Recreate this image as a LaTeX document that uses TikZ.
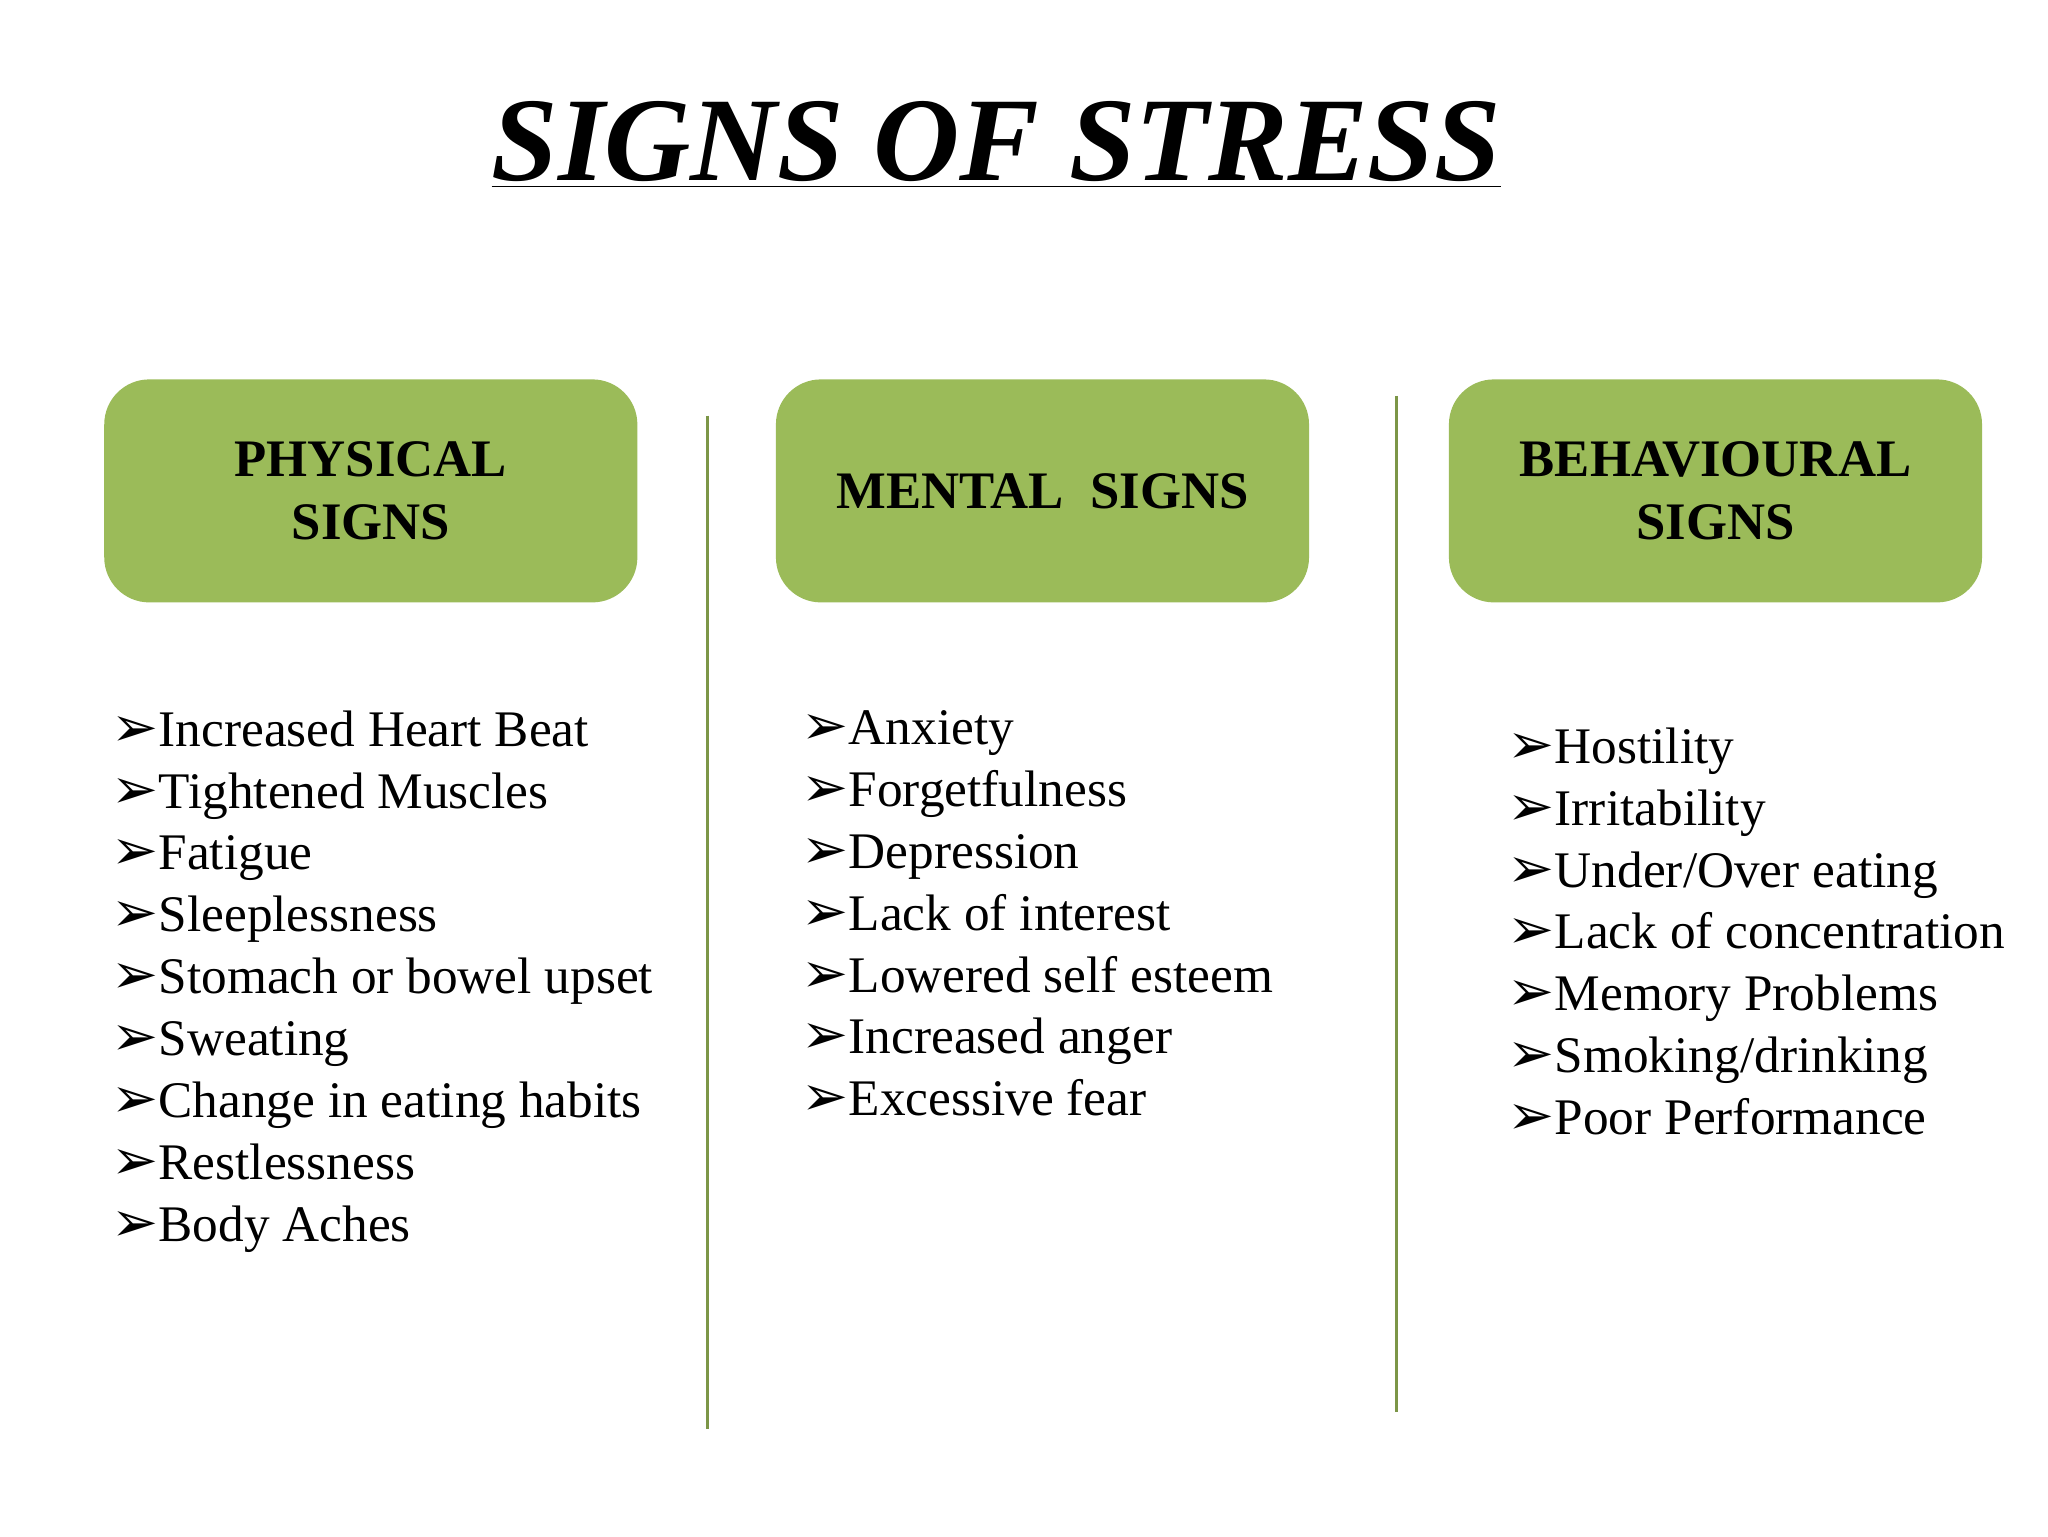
\documentclass[tikz,border=0pt]{standalone}
\usepackage{fontspec}
\setmainfont{Liberation Serif}
\newfontfamily\symf{DejaVu Sans}
\definecolor{hdr}{HTML}{9BBB59}
\begin{document}
\begin{tikzpicture}[x=0.0132cm,y=-0.0132cm,
  hbox/.style={fill=hdr,rounded corners=0.45cm,minimum width=404*0.0132cm,minimum height=169*0.0132cm,font=\fontsize{15}{18}\selectfont\bfseries,align=center},
  lst/.style={anchor=north west,align=left,font=\fontsize{14.6}{17.6}\selectfont,inner sep=0pt},
  sep/.style={draw=hdr!80!black,line width=0.8pt}]
\useasboundingbox (0,0) rectangle (1552,1164);
\node[font=\fontsize{34}{40}\selectfont\bfseries\itshape] (title) at (755,110) {\underline{SIGNS OF STRESS}};
\node[hbox] (phys) at (281,372) {PHYSICAL\\SIGNS};
\node[hbox] (ment) at (790,372) {MENTAL\ \ SIGNS};
\node[hbox] (beh) at (1300,372) {BEHAVIOURAL\\SIGNS};
\coordinate (l1a) at (536,315); \coordinate (l1b) at (536,1083);
\coordinate (l2a) at (1058,300); \coordinate (l2b) at (1058,1070);
\draw[sep] (l1a) -- (l1b);
\draw[sep] (l2a) -- (l2b);
\newcommand{\bu}{{\symf\fontsize{16}{17.6}\selectfont ➢}}
\node[lst] (pl) at (84,538) {\bu Increased Heart Beat\\\bu Tightened Muscles\\\bu Fatigue\\\bu Sleeplessness\\\bu Stomach or bowel upset\\\bu Sweating\\\bu Change in eating habits\\\bu Restlessness\\\bu Body Aches};
\node[lst] (ml) at (607,538) {\bu Anxiety\\\bu Forgetfulness\\\bu Depression\\\bu Lack of interest\\\bu Lowered self esteem\\\bu Increased anger\\\bu Excessive fear};
\node[lst] (bl) at (1142,551) {\bu Hostility\\\bu Irritability\\\bu Under/Over eating\\\bu Lack of concentration\\\bu Memory Problems\\\bu Smoking/drinking\\\bu Poor Performance};
\end{tikzpicture}
\end{document}
